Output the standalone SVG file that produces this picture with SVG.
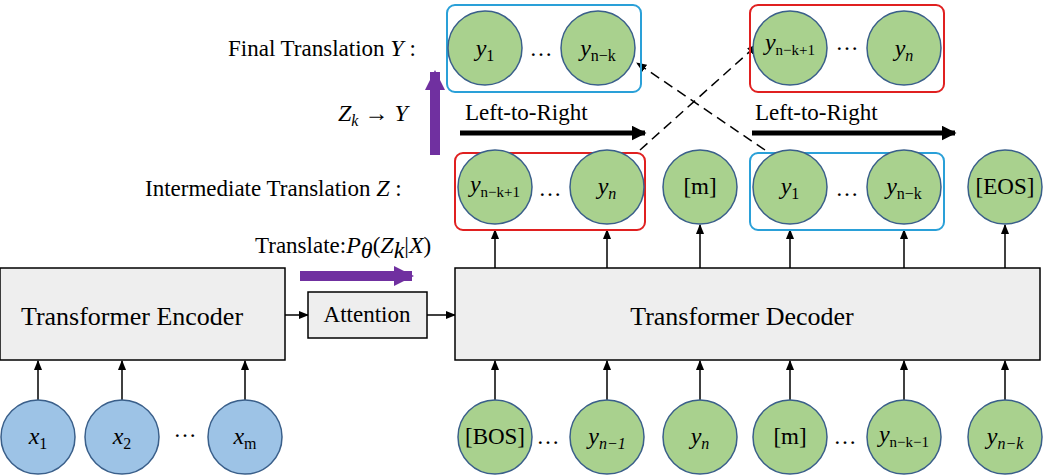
<svg xmlns="http://www.w3.org/2000/svg" width="1044" height="475" viewBox="0 0 1044 475">
<style>
.g{fill:#a9d18e;stroke:#3a5f8a;stroke-width:1.5}
.b{fill:#9dc3e6;stroke:#3a5f8a;stroke-width:1.5}
.box{fill:#eeeeee;stroke:#000;stroke-width:1.5}
.t{font-family:"Liberation Serif",serif;font-size:23px;fill:#000}
.big{font-size:26px}
.m{font-family:"Liberation Serif",serif;font-size:24px;font-style:italic;fill:#000}
.c{text-anchor:middle}
.ln{stroke:#000;stroke-width:1.5;fill:none}
.rb{fill:none;stroke:#e02020;stroke-width:2}
.bb{fill:none;stroke:#2aa0d8;stroke-width:2}
</style>
<defs>
<marker id="a" viewBox="0 0 10 10" refX="9" refY="5" markerWidth="7" markerHeight="7" orient="auto"><path d="M0,1L10,5L0,9z" fill="#000"/></marker>
<marker id="ab" viewBox="0 0 10 10" refX="9" refY="5" markerWidth="3" markerHeight="3" orient="auto"><path d="M0,0L10,5L0,10z" fill="#000"/></marker>
<marker id="ap" viewBox="0 0 10 10" refX="9" refY="5" markerWidth="2" markerHeight="2" orient="auto"><path d="M0,0L10,5L0,10z" fill="#7030a0"/></marker>
</defs>
<text class="t" x="228" y="56">Final Translation <tspan class="m">Y</tspan> :</text>
<text class="t" x="145" y="196">Intermediate Translation <tspan class="m">Z</tspan> :</text>
<text class="m" x="338" y="121">Z<tspan font-size="16" dy="5">k</tspan><tspan dy="-5" font-style="normal"> → </tspan>Y</text>
<text class="t" x="255" y="253">Translate:<tspan class="m">P</tspan><tspan class="m" font-size="16" dy="5">θ</tspan><tspan dy="-5">(</tspan><tspan class="m">Z</tspan><tspan class="m" font-size="16" dy="5">k</tspan><tspan dy="-5">|</tspan><tspan class="m">X</tspan>)</text>
<text class="t" x="465" y="120">Left-to-Right</text>
<text class="t" x="755" y="120">Left-to-Right</text>
<g id="connectors">
<line x1="435" y1="155" x2="435" y2="72" stroke="#7030a0" stroke-width="10" marker-end="url(#ap)"/>
<line x1="300" y1="276" x2="412" y2="276" stroke="#7030a0" stroke-width="10" marker-end="url(#ap)"/>
<line x1="460" y1="133" x2="645" y2="133" stroke="#000" stroke-width="5" marker-end="url(#ab)"/>
<line x1="752" y1="133" x2="955" y2="133" stroke="#000" stroke-width="5" marker-end="url(#ab)"/>
<line x1="640" y1="150" x2="757" y2="45" class="ln" stroke-dasharray="10,6" marker-end="url(#a)"/>
<line x1="765" y1="150" x2="637" y2="63" class="ln" stroke-dasharray="10,6" marker-end="url(#a)"/>
<line x1="285" y1="315" x2="308" y2="315" class="ln" marker-end="url(#a)"/>
<line x1="427" y1="315" x2="455" y2="315" class="ln" marker-end="url(#a)"/>
<line x1="38" y1="400" x2="38" y2="361" class="ln" marker-end="url(#a)"/>
<line x1="122" y1="400" x2="122" y2="361" class="ln" marker-end="url(#a)"/>
<line x1="245" y1="400" x2="245" y2="361" class="ln" marker-end="url(#a)"/>
<line x1="495" y1="400" x2="495" y2="361" class="ln" marker-end="url(#a)"/>
<line x1="607" y1="400" x2="607" y2="361" class="ln" marker-end="url(#a)"/>
<line x1="700" y1="400" x2="700" y2="361" class="ln" marker-end="url(#a)"/>
<line x1="790" y1="400" x2="790" y2="361" class="ln" marker-end="url(#a)"/>
<line x1="904" y1="400" x2="904" y2="361" class="ln" marker-end="url(#a)"/>
<line x1="1005" y1="400" x2="1005" y2="361" class="ln" marker-end="url(#a)"/>
<line x1="495" y1="268" x2="495" y2="230" class="ln" marker-end="url(#a)"/>
<line x1="607" y1="268" x2="607" y2="230" class="ln" marker-end="url(#a)"/>
<line x1="700" y1="268" x2="700" y2="225" class="ln" marker-end="url(#a)"/>
<line x1="790" y1="268" x2="790" y2="230" class="ln" marker-end="url(#a)"/>
<line x1="904" y1="268" x2="904" y2="230" class="ln" marker-end="url(#a)"/>
<line x1="1005" y1="268" x2="1005" y2="225" class="ln" marker-end="url(#a)"/>
</g>
<g id="encoder"><rect class="box" x="0" y="268" width="285" height="92"/><text class="t big c" x="132" y="325">Transformer Encoder</text></g>
<g id="attention"><rect class="box" x="308" y="292" width="119" height="46"/><text class="t c" x="367" y="322">Attention</text></g>
<g id="decoder"><rect class="box" x="455" y="268" width="585" height="92"/><text class="t big c" x="742" y="325">Transformer Decoder</text></g>
<g id="top-left"><rect class="bb" x="447" y="5" width="194" height="87" rx="8"/>
<circle class="g" cx="485" cy="48" r="37"/><text class="m c" x="485" y="56">y<tspan font-size="16" dy="5" font-style="normal">1</tspan></text>
<text class="t c" x="541" y="56">…</text>
<circle class="g" cx="598" cy="48" r="37"/><text class="m c" x="598" y="56">y<tspan font-size="16" dy="5" font-style="normal">n−k</tspan></text></g>
<g id="top-right"><rect class="rb" x="750" y="5" width="194" height="87" rx="8"/>
<circle class="g" cx="790" cy="48" r="37"/><text class="m c" x="790" y="50">y<tspan font-size="15" dy="5" font-style="normal">n−k+1</tspan></text>
<text class="t c" x="847" y="50">…</text>
<circle class="g" cx="904" cy="48" r="37"/><text class="m c" x="904" y="56">y<tspan font-size="16" dy="5">n</tspan></text></g>
<g id="mid-left"><rect class="rb" x="455" y="153" width="190" height="77" rx="8"/>
<circle class="g" cx="495" cy="187" r="37"/><text class="m c" x="495" y="192">y<tspan font-size="15" dy="5" font-style="normal">n−k+1</tspan></text>
<text class="t c" x="550" y="196">…</text>
<circle class="g" cx="607" cy="187" r="37"/><text class="m c" x="607" y="194">y<tspan font-size="16" dy="5">n</tspan></text></g>
<g id="mid-m"><circle class="g" cx="700" cy="187" r="37"/><text class="t c" x="700" y="194">[m]</text></g>
<g id="mid-right"><rect class="bb" x="750" y="153" width="194" height="77" rx="8"/>
<circle class="g" cx="790" cy="187" r="37"/><text class="m c" x="790" y="194">y<tspan font-size="16" dy="5" font-style="normal">1</tspan></text>
<text class="t c" x="847" y="196">…</text>
<circle class="g" cx="904" cy="187" r="37"/><text class="m c" x="904" y="194">y<tspan font-size="16" dy="5" font-style="normal">n−k</tspan></text></g>
<g id="mid-eos"><circle class="g" cx="1005" cy="187" r="37"/><text class="t c" x="1005" y="194">[EOS]</text></g>
<g id="x1"><circle class="b" cx="38" cy="437" r="37"/><text class="m c" x="38" y="444">x<tspan font-size="16" dy="5" font-style="normal">1</tspan></text></g>
<g id="x2"><circle class="b" cx="122" cy="437" r="37"/><text class="m c" x="122" y="444">x<tspan font-size="16" dy="5" font-style="normal">2</tspan></text></g>
<text class="t c" x="185" y="437">…</text>
<g id="xm"><circle class="b" cx="245" cy="437" r="37"/><text class="m c" x="245" y="444">x<tspan font-size="16" dy="5" font-style="normal">m</tspan></text></g>
<g id="bos"><circle class="g" cx="495" cy="437" r="37"/><text class="t c" x="495" y="444">[BOS]</text></g>
<text class="t c" x="548" y="444">…</text>
<g id="yn1"><circle class="g" cx="607" cy="437" r="37"/><text class="m c" x="607" y="444">y<tspan font-size="16" dy="5">n−1</tspan></text></g>
<g id="yn"><circle class="g" cx="700" cy="437" r="37"/><text class="m c" x="700" y="444">y<tspan font-size="16" dy="5">n</tspan></text></g>
<g id="bm"><circle class="g" cx="790" cy="437" r="37"/><text class="t c" x="790" y="444">[m]</text></g>
<text class="t c" x="845" y="444">…</text>
<g id="ynk1"><circle class="g" cx="904" cy="437" r="37"/><text class="m c" x="904" y="442">y<tspan font-size="15" dy="5" font-style="normal">n−k−1</tspan></text></g>
<g id="ynk"><circle class="g" cx="1005" cy="437" r="37"/><text class="m c" x="1005" y="444">y<tspan font-size="16" dy="5">n−k</tspan></text></g>
</svg>
